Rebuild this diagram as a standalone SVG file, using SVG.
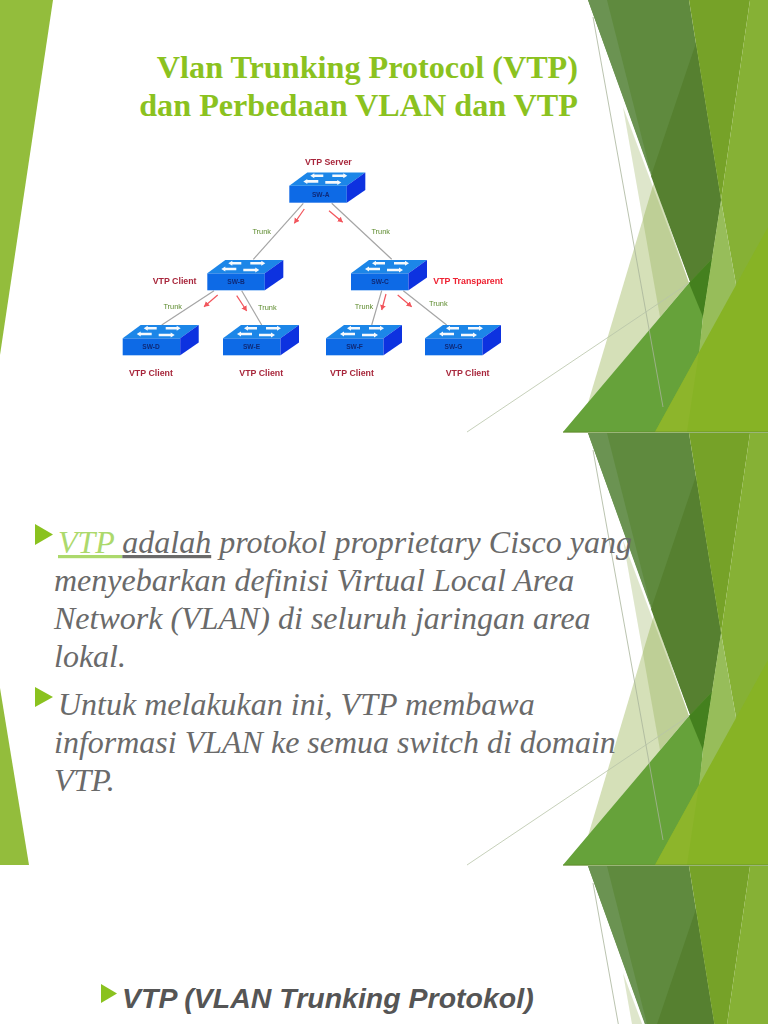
<svg xmlns="http://www.w3.org/2000/svg" width="768" height="1024" viewBox="0 0 768 1024">
<style>
.title{font-family:"Liberation Serif",serif;font-weight:bold;font-size:32.2px;fill:#8bc21f;text-anchor:end}
.body{font-family:"Liberation Serif",serif;font-style:italic;font-size:32px;fill:#6a6a6a}
.head{font-family:"Liberation Sans",sans-serif;font-style:italic;font-weight:bold;font-size:28.5px;fill:#555}
.vtp{font-family:"Liberation Sans",sans-serif;font-weight:bold;font-size:8.8px;fill:#a8283c}
.trunk{font-family:"Liberation Sans",sans-serif;font-size:7.4px;fill:#5c8a2c;text-anchor:middle}
.sw{font-family:"Liberation Sans",sans-serif;font-weight:bold;font-size:6.6px;fill:#0b2a78;text-anchor:middle}
.link{stroke:#a5a5a5;stroke-width:1.2;fill:none}
.flow{stroke:#f2555c;stroke-width:1.2;fill:none;marker-end:url(#ah)}
.bullet{fill:#8ac21f}
</style>
<defs>
<marker id="ah" markerWidth="7" markerHeight="7" refX="5" refY="3" orient="auto" markerUnits="userSpaceOnUse"><path d="M0 0L5 3L0 6z" fill="#f2555c"/></marker>
<filter id="soft" x="-5%" y="-5%" width="110%" height="110%"><feGaussianBlur stdDeviation="0.6"/></filter>
<g id="deco">
<polygon points="654,182 689,283 588,403" fill="#d5e0b8"/>
<polygon points="623,107 689,283 660,317" fill="#7a9a30" fill-opacity="0.25"/>
<polygon points="588,0 689,0 721,200 703,317" fill="#5f8a3e"/>
<polygon points="588,0 607,0 652,178" fill="#6b9352"/>
<polygon points="696,43 721,200 703,317 651,176" fill="#568030"/>
<polygon points="689,0 750,0 721,200" fill="#76a228"/>
<polygon points="750,0 768,0 768,300 737,290 721,200" fill="#86b135"/>
<polygon points="563,432 689,283 712,259 703,317 699,360 670,432" fill="#66a23a"/>
<polygon points="689,283 712,259 703,317" fill="#44801e"/>
<polygon points="721,200 737,290 699,362 699,352 703,317" fill="#97bd5a"/>
<polygon points="655,432 768,227 768,432" fill="#87b325"/>
<polygon points="655,432 699,352 687,432" fill="#8db52b"/>
<line x1="593" y1="17" x2="663" y2="407" stroke="#a8b49a" stroke-width="0.8"/>
<line x1="467" y1="432" x2="689" y2="283" stroke="#b8c4a8" stroke-width="0.8"/>
</g>
<g id="switch">
<rect x="0" y="0" width="57.5" height="17" fill="#0a6ae6"/>
<polygon points="0,0 18,-13.3 76,-13.3 57.5,0" fill="#1c86e8"/>
<polygon points="57.5,0 76,-13.3 76,4.3 57.5,17" fill="#0a30e0"/>
<path d="M21,-10l4,-2.500v1.200h9v2.600h-9v1.200zM58,-10l-4,-2.500v1.200h-11v2.600h11v1.200zM14,-4.300l4,-2.500v1.200h11v2.600h-11v1.200zM52,-3.300l-4,-2.500v1.200h-12v2.600h12v1.200z" fill="#f6f9fc"/>
</g>
</defs>

<rect width="768" height="1024" fill="#fff"/>
<g id="slide-decoration">
<use href="#deco"/>
<use href="#deco" y="433"/>
<use href="#deco" y="866"/>
<polygon points="0,0 53,0 0,355" fill="#93bd3c"/>
<polygon points="0,688 29,865 0,865" fill="#93bd3c"/>
<rect x="563" y="431.500" width="205" height="1.400" fill="#5f8a2a" opacity="0.7"/>
<rect x="563" y="864.500" width="205" height="1.400" fill="#5f8a2a" opacity="0.7"/>
</g>

<g id="title">
<text class="title" x="578" y="78">Vlan Trunking Protocol (VTP)</text>
<text class="title" x="578" y="116">dan Perbedaan VLAN dan VTP</text>
</g>

<g id="network" filter="url(#soft)">
<g id="connectors">
<line class="link" x1="303.3" y1="203.3" x2="253.3" y2="259.3"/>
<line class="link" x1="331.7" y1="203.3" x2="391.7" y2="259.3"/>
<line class="link" x1="214" y1="290.7" x2="161.7" y2="325"/>
<line class="link" x1="241.7" y1="290.7" x2="261.7" y2="325"/>
<line class="link" x1="381.7" y1="290.7" x2="371.7" y2="325"/>
<line class="link" x1="403.3" y1="290.7" x2="446.7" y2="325"/>
<line class="flow" x1="304.3" y1="209" x2="294.3" y2="223.3"/>
<line class="flow" x1="329" y1="210.7" x2="342.7" y2="222.3"/>
<line class="flow" x1="217.7" y1="295" x2="204" y2="306.7"/>
<line class="flow" x1="236.7" y1="295.7" x2="246.7" y2="311"/>
<line class="flow" x1="386" y1="294" x2="381.7" y2="310"/>
<line class="flow" x1="397.7" y1="295" x2="411.7" y2="306.7"/>
<text class="trunk" x="261.7" y="233.500">Trunk</text>
<text class="trunk" x="380.7" y="233.500">Trunk</text>
<text class="trunk" x="172.7" y="309">Trunk</text>
<text class="trunk" x="267.3" y="310">Trunk</text>
<text class="trunk" x="364" y="309">Trunk</text>
<text class="trunk" x="438.3" y="305.500">Trunk</text>
</g>
<g id="sw-a"><use href="#switch" x="289.3" y="185.7"/><text class="sw" x="320.7" y="196.500">SW-A</text></g>
<g id="sw-b"><use href="#switch" x="207.3" y="273.3"/><text class="sw" x="236" y="284">SW-B</text></g>
<g id="sw-c"><use href="#switch" x="351" y="273.3"/><text class="sw" x="380" y="284">SW-C</text></g>
<g id="sw-d"><use href="#switch" x="122.7" y="338.3"/><text class="sw" x="151" y="349">SW-D</text></g>
<g id="sw-e"><use href="#switch" x="223" y="338.3"/><text class="sw" x="251.500" y="349">SW-E</text></g>
<g id="sw-f"><use href="#switch" x="326" y="338.3"/><text class="sw" x="354.500" y="349">SW-F</text></g>
<g id="sw-g"><use href="#switch" x="425" y="338.3"/><text class="sw" x="453.500" y="349">SW-G</text></g>
<text class="vtp" x="305" y="164.500">VTP Server</text>
<text class="vtp" x="152.7" y="284">VTP Client</text>
<text class="vtp" x="433.3" y="284" style="fill:#ee2030">VTP Transparent</text>
<text class="vtp" x="129" y="375.500">VTP Client</text>
<text class="vtp" x="239.3" y="375.500">VTP Client</text>
<text class="vtp" x="330" y="375.500">VTP Client</text>
<text class="vtp" x="445.7" y="375.500">VTP Client</text>
</g>

<g id="body">
<polygon class="bullet" points="35,524 53,534.500 35,545"/>
<text class="body" x="58" y="553"><tspan text-decoration="underline" style="fill:#acd96c">VTP </tspan><tspan text-decoration="underline">adalah</tspan> protokol proprietary Cisco yang</text>
<text class="body" x="54" y="591">menyebarkan definisi Virtual Local Area</text>
<text class="body" x="54" y="629">Network (VLAN) di seluruh jaringan area</text>
<text class="body" x="54" y="667">lokal.</text>
<polygon class="bullet" points="35,687 53,697 35,707"/>
<text class="body" x="58" y="715">Untuk melakukan ini, VTP membawa</text>
<text class="body" x="54" y="753">informasi VLAN ke semua switch di domain</text>
<text class="body" x="54" y="791">VTP.</text>
</g>

<g id="footer">
<polygon class="bullet" points="101,984 117,993.500 101,1003"/>
<text class="head" x="122" y="1008">VTP (VLAN Trunking Protokol)</text>
</g>
</svg>
